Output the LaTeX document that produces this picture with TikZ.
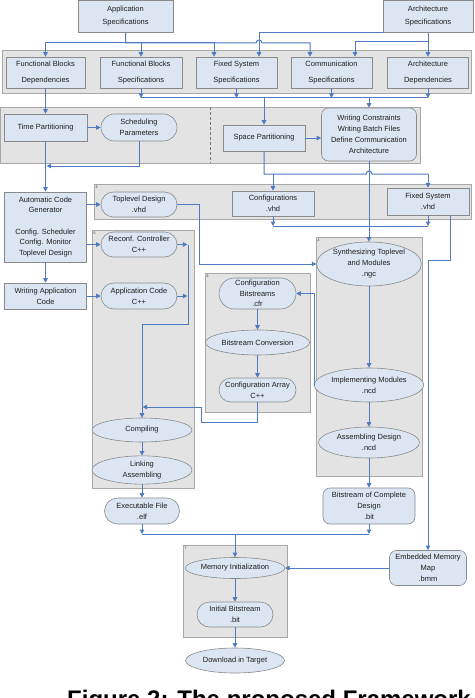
\documentclass[tikz,border=0pt]{standalone}
\usepackage{fontspec}
\setmainfont{Liberation Sans}
\usetikzlibrary{shapes.geometric,shapes.misc,arrows.meta}
\definecolor{boxfill}{HTML}{DCE6F2}
\definecolor{boxline}{HTML}{8A8A8A}
\definecolor{bandfill}{HTML}{E3E3E3}
\definecolor{bandline}{HTML}{A8A8A8}
\definecolor{conn}{HTML}{4F7BC0}
\definecolor{txt}{HTML}{1E1E1E}
\begin{document}
\begin{tikzpicture}[x=1pt,y=-1pt,
  base/.style={draw=boxline, fill=boxfill, line width=0.6pt, align=center, text=txt,
    font=\fontsize{7.5}{11}\selectfont, inner sep=1pt},
  box/.style={base, rectangle},
  stad/.style={base, rounded rectangle},
  ell/.style={base, ellipse},
  rbox/.style={base, rectangle, rounded corners=7pt},
  band/.style={fill=bandfill, draw=bandline, line width=0.6pt},
  arr/.style={draw=conn, line width=1pt, -{Triangle[length=4.5pt,width=4.5pt]}},
  ln/.style={draw=conn, line width=1pt},
  tag/.style={font=\fontsize{3.5}{4}\selectfont, text=txt, inner sep=0.5pt, anchor=north west},
]
\useasboundingbox (0,0) rectangle (474,698);
\fill[white] (0,0) rectangle (474,698);

% bands
\path[band] (2,50) rectangle (471,93);
\path[band] (0,107) rectangle (420,163);
\draw[bandline!70!black, line width=0.8pt, dash pattern=on 3pt off 2pt] (210,107) -- (210,163);
\path[band] (94,184) rectangle (471,219);
\path[band] (92,230) rectangle (194,488);
\path[band] (316,237) rectangle (422,476);
\path[band] (205,273) rectangle (310,412);
\path[band] (183,545) rectangle (287,637);
\node[tag] (t3) at (95,185) {3};
\node[tag] (t5) at (93,231) {5};
\node[tag] (t4) at (317,238) {4};
\node[tag] (t6) at (206,274) {6};
\node[tag] (t7) at (184,546) {7};

% top specs
\node[box, minimum width=95, minimum height=31.5, font=\fontsize{7.5}{13}\selectfont] (appspec) at (125.5,16.5) {Application\\Specifications};
\node[box, minimum width=90, minimum height=31.5, font=\fontsize{7.5}{13}\selectfont] (archspec) at (428,16.5) {Architecture\\Specifications};

% band 1
\tikzset{b1/.style={box, minimum width=81, minimum height=31, font=\fontsize{7.5}{16}\selectfont}}
\node[b1, minimum width=79] (fbdep) at (45.5,72.5) {Functional Blocks\\Dependencies};
\node[b1, minimum width=82] (fbspec) at (141,72.5) {Functional Blocks\\Specifications};
\node[b1] (fixspec) at (236.5,72.5) {Fixed System\\Specifications};
\node[b1] (commspec) at (331.5,72.5) {Communication\\Specifications};
\node[b1] (archdep) at (428,72.5) {Architecture\\Dependencies};

% band 2
\node[box, minimum width=83, minimum height=27] (timepart) at (45.5,127.5) {Time Partitioning};
\node[stad, minimum width=78, minimum height=27] (schedpar) at (139,127.5) {Scheduling\\Parameters};
\node[box, minimum width=82, minimum height=26] (spacepart) at (264,138) {Space Partitioning};
\node[rbox, minimum width=95, minimum height=53, font=\fontsize{7.5}{10.8}\selectfont] (writecons) at (369,134.5) {Writing Constraints\\Writing Batch Files\\Define Communication\\Architecture};

% band 3 and left column
\node[stad, minimum width=78, minimum height=25] (toplevel) at (139,204.5) {Toplevel Design\\.vhd};
\node[box, minimum width=82, minimum height=25] (configs) at (273,203.5) {Configurations\\.vhd};
\node[box, minimum width=82, minimum height=27] (fixvhd) at (428,201.5) {Fixed System\\.vhd};
\node[box, minimum width=82, minimum height=70, font=\fontsize{7.5}{10.5}\selectfont] (acg) at (45.5,227) {Automatic Code\\Generator\\[11pt]Config. Scheduler\\Config. Monitor\\Toplevel Design};
\node[stad, minimum width=78, minimum height=25] (reconf) at (139,244.5) {Reconf. Controller\\C++};
\node[stad, minimum width=78, minimum height=26] (appcode) at (139,296) {Application Code\\C++};
\node[box, minimum width=82, minimum height=26] (wac) at (45.5,296) {Writing Application\\Code};

% band 6
\node[stad, minimum width=79, minimum height=31, font=\fontsize{7.5}{10.5}\selectfont] (cfgbits) at (257.5,293.5) {Configuration\\Bitstreams\\.cfr};
\node[ell, minimum width=101, minimum height=25] (bsconv) at (257.5,342.5) {Bitstream Conversion};
\node[stad, minimum width=79, minimum height=24] (cfgarr) at (257.5,390) {Configuration Array\\C++};

% band 4
\node[ell, minimum width=102, minimum height=44] (synth) at (369,264) {Synthesizing Toplevel\\and Modules\\.ngc};
\node[ell, minimum width=101, minimum height=34] (implmod) at (369,385) {Implementing Modules\\.ncd};
\node[ell, minimum width=101, minimum height=31] (asmdes) at (369,442.5) {Assembling Design\\.ncd};
\node[rbox, minimum width=92, minimum height=36] (bitcomp) at (369,506) {Bitstream of Complete\\Design\\.bit};

% band 5 lower
\node[ell, minimum width=100, minimum height=24] (compiling) at (142,430) {Compiling};
\node[ell, minimum width=100, minimum height=26] (linking) at (142,470) {Linking\\Assembling};
\node[stad, minimum width=77, minimum height=26] (execf) at (142,511) {Executable File\\.elf};

% band 7
\node[ell, minimum width=99, minimum height=21] (meminit) at (235,568) {Memory Initialization};
\node[stad, minimum width=78, minimum height=25] (initbit) at (235,614.5) {Initial Bitstream\\.bit};
\node[ell, minimum width=99, minimum height=25] (download) at (235,660.5) {Download in Target};
\node[rbox, minimum width=77, minimum height=35] (embmem) at (428,568) {Embedded Memory\\Map\\.bmm};

% caption (cut by the lower edge, as in the reference)
\node[anchor=base, inner sep=0, text=black, font=\fontsize{24}{28}\bfseries\selectfont] (caption) at (269,707) {Figure 2: The proposed Framework};

% connectors: specifications
\draw[arr] (appspec.south) -- (125.5,43) -| (fbdep.north);
\draw[arr] (appspec.south) -- (125.5,43) -| (fbspec.north);
\draw[arr] (appspec.south) -- (125.5,43) -| ([xshift=-22.5pt]fixspec.north);
\draw[arr] (appspec.south) -- (125.5,43) -- (256,43) arc[start angle=180,end angle=0,radius=3pt] -- (310,43) -- ([xshift=-21.5pt]commspec.north);
\draw[arr] (archspec.south) -- (archdep.north);
\draw[arr] (archspec.south) -- (428,42) -| ([xshift=23.5pt]commspec.north);
\draw[arr] (archspec.south west) -| ([xshift=22.5pt]fixspec.north);

% band 1 to band 2
\draw[arr] (fbdep.south) -- (timepart.north);
\draw[arr] (fbspec.south) -- (141,98);
\draw[arr] (fixspec.south) -- (236.5,98);
\draw[arr] (commspec.south) -- (331.5,98);
\draw[arr] (archdep.south) -- (428,98);
\draw[ln] (141,98) -- (428,98);
\draw[arr] (264,98) -- (spacepart.north);
\draw[arr] (369,98) -- (writecons.north);

% band 2 internals and outputs
\draw[arr] (timepart.east) -- (schedpar.west);
\draw[arr] (spacepart.east) -- (writecons.west |- spacepart.east);
\draw[arr] (timepart.south) -- (acg.north);
\draw[arr] (schedpar.south) |- (46.6,166);
\draw[ln] (spacepart.south) -- (264,174) -- (366,174) arc[start angle=180,end angle=0,radius=3pt] -- (428,174);
\draw[arr] (428,174) -- (fixvhd.north);
\draw[arr] (273,174) -- (configs.north);
\draw[arr] (writecons.south) -- (synth.north);

% band 3 outputs
\draw[arr] (configs.south) -- (273,226);
\draw[arr] (fixvhd.south) -- (428,226);
\draw[ln] (273,226) -- (428,226);
\draw[arr] ([xshift=22pt]fixvhd.south) -- (450,260) -| (embmem.north);
\draw[arr] (toplevel.east) -- (199,204.5) |- (synth.west);

% automatic code generator
\draw[arr] (acg.east |- toplevel.west) -- (toplevel.west);
\draw[arr] (acg.east |- reconf.west) -- (reconf.west);
\draw[arr] (acg.south) -- (wac.north);
\draw[arr] (wac.east) -- (appcode.west);
\draw[arr] (reconf.east) -- (187.4,244.5);
\draw[arr] (appcode.east) -- (187.4,296);
\draw[arr] (188,244.5) -- (188,324) -| (compiling.north);

% configuration bitstreams
\draw[arr] (cfgbits.south) -- (bsconv.north);
\draw[arr] (bsconv.south) -- (cfgarr.north);
\draw[arr] (cfgarr.south) -- (257.5,422) -- (201,422) -- (201,407) -- (142.6,407);
\draw[arr] (implmod.west) -- (314,385) |- (cfgbits.east);

% synthesis flow
\draw[arr] (synth.south) -- (implmod.north);
\draw[arr] (implmod.south) -- (asmdes.north);
\draw[arr] (asmdes.south) -- (bitcomp.north);

% software flow
\draw[arr] (compiling.south) -- (linking.north);
\draw[arr] (linking.south) -- (execf.north);

% final
\draw[arr] (execf.south) -- (142,534);
\draw[arr] (bitcomp.south) -- (369,534);
\draw[ln] (142,534) -- (369,534);
\draw[arr] (235,534) -- (meminit.north);
\draw[arr] (embmem.west) -- (meminit.east);
\draw[arr] (meminit.south) -- (initbit.north);
\draw[arr] (initbit.south) -- (download.north);
\end{tikzpicture}
\end{document}
